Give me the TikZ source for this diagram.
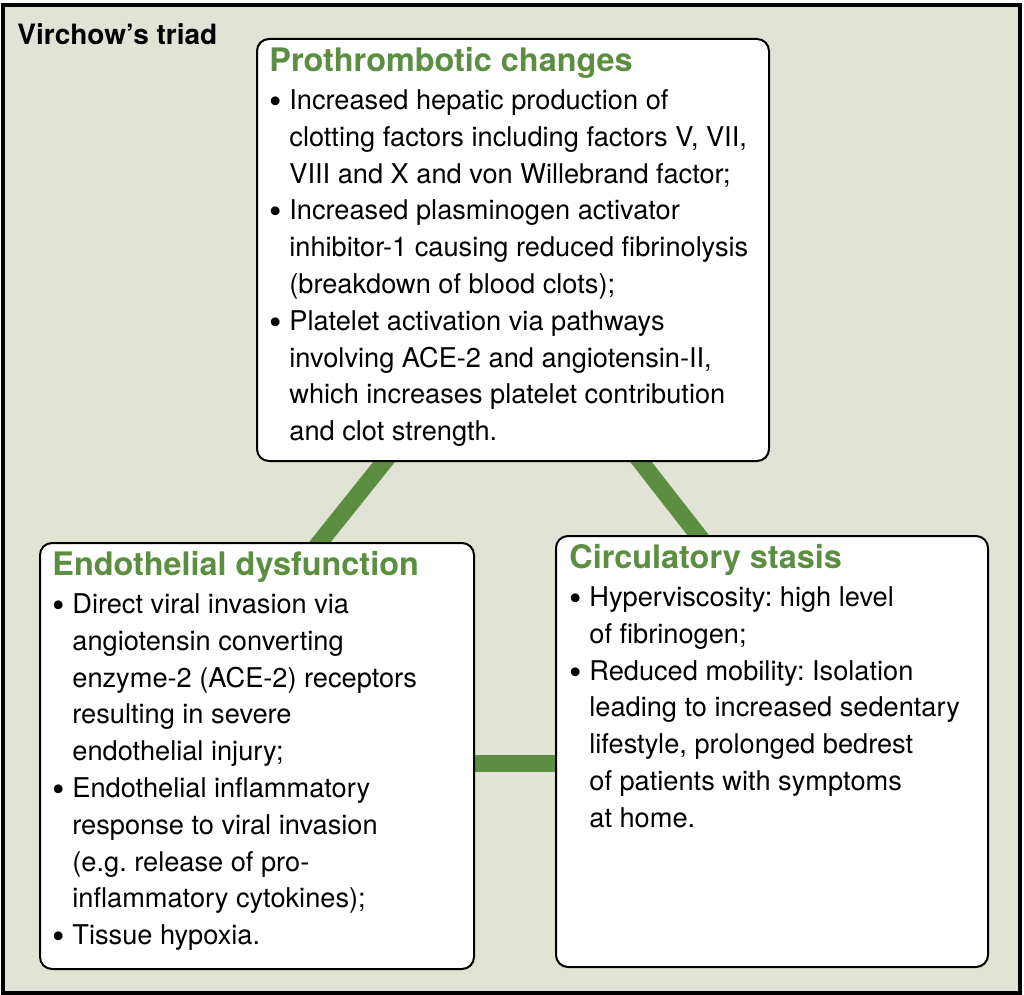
\documentclass[tikz,border=0pt]{standalone}
\usepackage{fontspec}
\setmainfont{TeX Gyre Heros}
\usetikzlibrary{positioning}
\definecolor{triadgreen}{HTML}{5B8E41}
\definecolor{panel}{HTML}{E1E4D5}
\pgfdeclarelayer{back}
\pgfsetlayers{back,main}
\frenchspacing
\newcommand{\heading}[1]{{\fontsize{16.2}{19}\selectfont\bfseries\color{triadgreen}\rule{0pt}{12.5pt}#1}}
\newcommand{\bul}{\makebox[10pt][l]{\raisebox{-2pt}{\scalebox{1.3}{\textbullet}}}}
\newcommand{\cont}{\hspace*{10pt}}
\tikzset{
  card/.style={draw=black,line width=1pt,rounded corners=6pt,fill=white,
    anchor=north west,inner sep=0pt},
  cardtext/.style={anchor=north west,align=left,inner sep=0pt,
    font=\fontsize{13.6}{18.4}\selectfont},
  link/.style={draw=triadgreen,line width=8.5pt,shorten <=-12pt,shorten >=-12pt}
}

\begin{document}
\begin{tikzpicture}[x=1pt,y=-1pt]
  \useasboundingbox (0,0) rectangle (512,497.5);
  \begin{pgfonlayer}{back}
    \path[draw=black,line width=1.75pt,fill=panel] (1.5,2.5) rectangle (510,496.5);
  \end{pgfonlayer}
  \node[anchor=base west,inner sep=0pt,font=\fontsize{14}{16}\selectfont\bfseries] (title) at (8.5,22.5) {Virchow’s triad};

  % the three corners of the triad
  \node[card,minimum width=256pt,minimum height=211pt] (prothrombotic) at (128,19) {};
  \node[card,minimum width=217pt,minimum height=213pt] (endothelial) at (19.5,271) {};
  \node[card,minimum width=216pt,minimum height=215.5pt] (stasis) at (277.5,267.5) {};

  \node[cardtext] (prothrombotic-txt) at ([xshift=6.5pt,yshift=-4pt]prothrombotic.north west) {\heading{Prothrombotic changes}\\[0.6pt]
    \bul Increased hepatic production of\\
    \cont clotting factors including factors V, VII,\\
    \cont VIII and X and von Willebrand factor;\\
    \bul Increased plasminogen activator\\
    \cont inhibitor-1 causing reduced fibrinolysis\\
    \cont (breakdown of blood clots);\\
    \bul Platelet activation via pathways\\
    \cont involving ACE-2 and angiotensin-II,\\
    \cont which increases platelet contribution\\
    \cont and clot strength.};
  \node[cardtext] (endothelial-txt) at ([xshift=6.5pt,yshift=-4pt]endothelial.north west) {\heading{Endothelial dysfunction}\\[0.6pt]
    \bul Direct viral invasion via\\
    \cont angiotensin converting\\
    \cont enzyme-2 (ACE-2) receptors\\
    \cont resulting in severe\\
    \cont endothelial injury;\\
    \bul Endothelial inflammatory\\
    \cont response to viral invasion\\
    \cont (e.g. release of pro-\\
    \cont inflammatory cytokines);\\
    \bul Tissue hypoxia.};
  \node[cardtext] (stasis-txt) at ([xshift=7pt,yshift=-4pt]stasis.north west) {\heading{Circulatory stasis}\\[0.6pt]
    \bul Hyperviscosity: high level\\
    \cont of fibrinogen;\\
    \bul Reduced mobility: Isolation\\
    \cont leading to increased sedentary\\
    \cont lifestyle, prolonged bedrest\\
    \cont of patients with symptoms\\
    \cont at home.};

  % green links behind the cards
  \coordinate (hz) at ([yshift=-3.5pt]endothelial.east);
  \begin{pgfonlayer}{back}
    \draw[link] ([xshift=-64.5pt]prothrombotic.south) -- ([xshift=31.5pt]endothelial.north);
    \draw[link] ([xshift=64pt]prothrombotic.south) -- ([xshift=-37pt]stasis.north);
    \draw[link] (hz) -- (hz -| stasis.west);
  \end{pgfonlayer}
\end{tikzpicture}
\end{document}
